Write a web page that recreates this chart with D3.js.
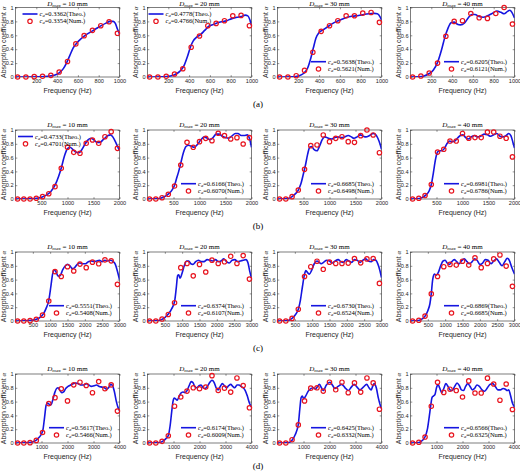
<!DOCTYPE html>
<html><head><meta charset="utf-8">
<script src="https://cdn.jsdelivr.net/npm/d3@7"></script>
<style>body{margin:0;background:#fff}svg{display:block}</style>
</head><body><svg id="c" width="520" height="475"></svg>
<script>
// ---------------- DATA ----------------
const rowLabels = ["(a)","(b)","(c)","(d)"];
const dmaxLabels = ["10","20","30","40"];
const fMax = [1000,2000,3000,4000];
const xTicksA = [200,400,600,800,1000];
const xTicksB = [500,1000,1500,2000];
const xTicksC = [500,1000,1500,2000,2500,3000];
const xTicksD = [1000,2000,3000,4000];
const yTicks = [0,0.2,0.4,0.6,0.8,1];

const freqA = [20,100,180,260,340,420,500,580,660,740,820,900,980];
const freqB = [40,160,280,400,520,640,760,880,1000,1120,1240,1360,1480,1600,1720,1840,1960];
const freqC = [60,240,420,600,780,960,1140,1320,1500,1680,1860,2040,2220,2400,2580,2760,2940];
const freqD = [80,320,560,800,1040,1280,1520,1760,2000,2240,2480,2720,2960,3200,3440,3680,3920];

const caTheoA = ["0.3362","0.4778","0.5638","0.6205"];
const caNumA  = ["0.3354","0.4766","0.5621","0.6121"];
const caTheoB = ["0.4733","0.6166","0.6685","0.6981"];
const caNumB  = ["0.4701","0.6070","0.6498","0.6786"];
const caTheoC = ["0.5551","0.6374","0.6730","0.6869"];
const caNumC  = ["0.5408","0.6107","0.6524","0.6685"];
const caTheoD = ["0.5617","0.6174","0.6425","0.6566"];
const caNumD  = ["0.5466","0.6009","0.6332","0.6325"];

// numerical (circles)
const numA1 = [0,0,0.005,0.01,0.024,0.071,0.224,0.476,0.595,0.671,0.738,0.795,0.629];
const numA2 = [0,0,0.01,0.043,0.119,0.429,0.59,0.738,0.771,0.81,0.881,0.886,0.738];
const numA3 = [0,0,0.019,0.095,0.357,0.657,0.738,0.81,0.881,0.881,0.919,0.929,0.786];
const numA4 = [0,0.014,0.057,0.2,0.586,0.8,0.81,0.914,0.852,0.843,0.914,1.0,0.762];
const numB1 = [0,0,0,0.01,0.034,0.077,0.179,0.444,0.749,0.676,0.662,0.807,0.855,0.807,0.903,0.976,0.734];
const numB2 = [0,0,0.019,0.068,0.188,0.493,0.821,0.749,0.831,0.879,0.845,0.952,0.918,0.87,0.889,0.797,0.889];
const numB3 = [0,0,0.034,0.13,0.43,0.773,0.783,0.928,0.831,0.879,0.903,0.831,0.821,0.918,1.0,0.928,0.671];
const numB4 = [0,0.01,0.05,0.21,0.68,0.72,0.84,0.84,0.95,0.88,0.89,0.89,0.97,0.97,0.91,0.88,0.61];
const numC1 = [0,0,0.005,0.024,0.085,0.289,0.716,0.645,0.787,0.725,0.825,0.773,0.853,0.829,0.886,0.872,0.531];
const numC2 = [0,0,0.028,0.095,0.265,0.773,0.834,0.654,0.82,0.71,0.882,0.834,0.858,0.938,0.834,0.948,0.607];
const numC3 = [0,0,0.038,0.171,0.645,0.787,0.867,0.749,0.853,0.834,0.834,0.839,0.905,0.843,0.9,0.905,0.545];
const numC4 = [0,0.01,0.071,0.393,0.645,0.787,0.82,0.81,0.867,0.81,0.915,0.773,0.834,0.9,0.957,0.796,0.502];
const numD1 = [0,0,0.005,0.038,0.152,0.571,0.657,0.786,0.61,0.843,0.881,0.833,0.729,0.89,0.786,0.843,0.462];
const numD2 = [0,0,0.024,0.105,0.533,0.667,0.752,0.8,0.786,0.81,0.976,0.762,0.795,0.738,0.943,0.833,0.51];
const numD3 = [0,0,0.048,0.262,0.61,0.795,0.8,0.752,0.881,0.771,0.881,0.729,0.871,0.738,0.943,0.871,0.49];
const numD4 = [0,0.01,0.086,0.533,0.88,0.733,0.78,0.76,0.667,0.9,0.724,0.724,0.94,0.855,0.62,0.855,0.486];

// theoretical curves [frequency, alpha]
const theoA1 = [[0,0],[250,0.003],[330,0.015],[380,0.03],[420,0.06],[460,0.12],[490,0.2],[520,0.3],[555,0.42],[590,0.49],[630,0.55],[670,0.6],[720,0.645],[770,0.69],[820,0.735],[870,0.775],[910,0.8],[940,0.8],[960,0.77],[980,0.69],[1000,0.62]];
const theoA2 = [[0,0],[150,0.003],[220,0.015],[270,0.04],[310,0.08],[350,0.16],[385,0.3],[415,0.44],[440,0.52],[470,0.57],[510,0.61],[550,0.67],[590,0.73],[640,0.76],[700,0.79],[760,0.81],[810,0.84],[860,0.86],[900,0.87],[940,0.89],[965,0.88],[985,0.82],[1000,0.74]];
const theoA3 = [[0,0],[150,0.003],[200,0.015],[250,0.05],[290,0.13],[320,0.27],[345,0.42],[370,0.56],[400,0.64],[440,0.68],[480,0.72],[520,0.76],[570,0.8],[620,0.83],[670,0.86],[720,0.875],[780,0.885],[830,0.9],[880,0.91],[930,0.915],[960,0.91],[985,0.87],[1000,0.82]];
const theoA4 = [[0,0],[80,0.003],[130,0.015],[180,0.05],[220,0.1],[260,0.21],[300,0.4],[330,0.57],[360,0.7],[390,0.78],[420,0.79],[450,0.76],[480,0.75],[520,0.78],[560,0.86],[590,0.9],[620,0.9],[660,0.87],[700,0.86],[740,0.88],[780,0.91],[830,0.95],[870,0.93],[900,0.91],[930,0.94],[955,0.96],[975,0.93],[1000,0.85]];
const theoB1 = [[0,0],[300,0.002],[400,0.01],[500,0.025],[600,0.06],[680,0.11],[760,0.2],[830,0.33],[880,0.45],[940,0.62],[1000,0.73],[1050,0.75],[1100,0.72],[1160,0.68],[1220,0.67],[1280,0.72],[1340,0.8],[1400,0.86],[1450,0.88],[1500,0.86],[1570,0.82],[1620,0.82],[1700,0.87],[1780,0.92],[1830,0.93],[1880,0.89],[1940,0.8],[2000,0.7]];
const theoB2 = [[0,0],[200,0.003],[280,0.02],[360,0.05],[430,0.09],[480,0.14],[520,0.2],[560,0.3],[600,0.4],[640,0.52],[690,0.67],[740,0.76],[790,0.78],[850,0.76],[900,0.75],[960,0.79],[1020,0.85],[1090,0.9],[1150,0.88],[1200,0.86],[1260,0.89],[1320,0.94],[1380,0.94],[1440,0.91],[1500,0.89],[1560,0.88],[1620,0.91],[1690,0.95],[1740,0.95],[1800,0.92],[1860,0.92],[1920,0.93],[1960,0.88],[2000,0.75]];
const theoB3 = [[0,0],[150,0.003],[250,0.02],[320,0.06],[400,0.13],[450,0.22],[500,0.37],[540,0.5],[580,0.65],[620,0.75],[660,0.76],[700,0.72],[760,0.7],[810,0.77],[860,0.86],[910,0.9],[980,0.88],[1040,0.87],[1100,0.89],[1160,0.9],[1220,0.89],[1290,0.9],[1360,0.92],[1420,0.9],[1470,0.88],[1530,0.9],[1590,0.93],[1650,0.91],[1700,0.9],[1770,0.92],[1840,0.95],[1880,0.94],[1930,0.88],[1970,0.8],[2000,0.72]];
const theoB4 = [[0,0],[120,0.003],[220,0.02],[300,0.06],[360,0.12],[400,0.21],[440,0.38],[480,0.57],[520,0.68],[560,0.7],[600,0.7],[650,0.73],[700,0.8],[750,0.84],[800,0.83],[850,0.84],[900,0.88],[960,0.92],[1010,0.93],[1060,0.89],[1110,0.87],[1170,0.9],[1230,0.92],[1290,0.9],[1350,0.91],[1420,0.94],[1480,0.93],[1540,0.91],[1600,0.93],[1660,0.95],[1720,0.91],[1780,0.9],[1840,0.92],[1890,0.95],[1930,0.92],[1970,0.82],[2000,0.74]];
const theoC1 = [[0,0],[300,0.003],[450,0.01],[600,0.025],[700,0.05],[800,0.1],[880,0.18],[960,0.3],[1020,0.5],[1070,0.68],[1120,0.74],[1170,0.71],[1230,0.65],[1290,0.66],[1360,0.74],[1440,0.8],[1500,0.82],[1570,0.8],[1640,0.76],[1700,0.77],[1780,0.82],[1860,0.84],[1940,0.83],[2020,0.83],[2100,0.86],[2180,0.87],[2260,0.86],[2340,0.87],[2420,0.88],[2500,0.86],[2580,0.88],[2660,0.87],[2740,0.88],[2820,0.86],[2880,0.82],[2940,0.72],[3000,0.6]];
const theoC2 = [[0,0],[250,0.003],[400,0.02],[500,0.05],[600,0.1],[700,0.18],[780,0.28],[830,0.48],[870,0.66],[900,0.67],[940,0.62],[990,0.68],[1060,0.8],[1130,0.87],[1190,0.87],[1250,0.83],[1310,0.82],[1390,0.86],[1470,0.88],[1550,0.86],[1630,0.86],[1720,0.89],[1800,0.88],[1880,0.87],[1960,0.89],[2040,0.86],[2120,0.87],[2200,0.9],[2280,0.86],[2360,0.84],[2440,0.88],[2520,0.89],[2600,0.86],[2680,0.87],[2760,0.88],[2840,0.89],[2900,0.84],[2950,0.72],[3000,0.62]];
const theoC3 = [[0,0],[250,0.003],[400,0.03],[500,0.08],[600,0.17],[660,0.3],[720,0.5],[780,0.68],[820,0.73],[870,0.7],[920,0.68],[980,0.73],[1060,0.83],[1140,0.87],[1200,0.85],[1260,0.83],[1330,0.85],[1420,0.88],[1500,0.87],[1580,0.84],[1660,0.87],[1750,0.89],[1830,0.86],[1900,0.85],[1980,0.89],[2060,0.87],[2140,0.85],[2220,0.89],[2300,0.88],[2380,0.85],[2460,0.88],[2540,0.9],[2620,0.87],[2700,0.86],[2780,0.89],[2840,0.88],[2900,0.82],[2950,0.74],[3000,0.63]];
const theoC4 = [[0,0],[150,0.003],[300,0.02],[420,0.07],[500,0.15],[560,0.25],[600,0.4],[640,0.6],[690,0.68],[740,0.66],[800,0.7],[870,0.8],[940,0.87],[1000,0.88],[1060,0.84],[1120,0.82],[1190,0.86],[1260,0.89],[1330,0.86],[1400,0.83],[1470,0.87],[1550,0.9],[1630,0.86],[1700,0.83],[1780,0.86],[1850,0.9],[1920,0.88],[2000,0.82],[2080,0.84],[2160,0.89],[2240,0.88],[2320,0.83],[2400,0.87],[2480,0.9],[2560,0.85],[2640,0.8],[2720,0.86],[2790,0.91],[2850,0.88],[2920,0.78],[3000,0.68]];
const theoD1 = [[0,0],[400,0.003],[600,0.01],[800,0.04],[900,0.08],[1000,0.13],[1060,0.2],[1120,0.38],[1180,0.55],[1230,0.58],[1300,0.56],[1360,0.55],[1430,0.62],[1510,0.73],[1580,0.79],[1640,0.8],[1700,0.77],[1780,0.73],[1850,0.74],[1930,0.79],[2020,0.82],[2120,0.84],[2220,0.86],[2320,0.87],[2420,0.86],[2520,0.84],[2620,0.84],[2720,0.86],[2820,0.84],[2920,0.82],[3020,0.83],[3120,0.84],[3220,0.82],[3320,0.81],[3420,0.8],[3500,0.78],[3580,0.8],[3660,0.85],[3720,0.84],[3800,0.75],[3880,0.6],[3940,0.52],[4000,0.47]];
const theoD2 = [[0,0],[400,0.003],[560,0.02],[700,0.06],[800,0.11],[870,0.25],[930,0.45],[980,0.6],[1030,0.65],[1080,0.64],[1140,0.62],[1200,0.66],[1280,0.72],[1360,0.74],[1440,0.73],[1520,0.76],[1600,0.83],[1680,0.89],[1740,0.88],[1820,0.82],[1900,0.8],[1980,0.83],[2060,0.84],[2140,0.8],[2220,0.79],[2300,0.82],[2400,0.88],[2480,0.91],[2560,0.88],[2640,0.8],[2720,0.77],[2800,0.82],[2880,0.86],[2960,0.83],[3040,0.8],[3120,0.83],[3200,0.85],[3280,0.82],[3360,0.8],[3440,0.84],[3520,0.84],[3600,0.82],[3680,0.8],[3760,0.76],[3840,0.68],[3920,0.58],[4000,0.52]];
const theoD3 = [[0,0],[400,0.003],[560,0.04],[680,0.12],[800,0.27],[860,0.5],[910,0.66],[955,0.68],[1010,0.64],[1080,0.68],[1200,0.76],[1380,0.8],[1460,0.78],[1540,0.82],[1610,0.85],[1690,0.8],[1760,0.76],[1880,0.84],[2020,0.88],[2110,0.84],[2210,0.79],[2330,0.82],[2470,0.85],[2600,0.8],[2720,0.76],[2840,0.81],[2950,0.85],[3060,0.81],[3170,0.77],[3300,0.81],[3430,0.85],[3520,0.8],[3600,0.77],[3660,0.82],[3720,0.86],[3800,0.8],[3880,0.65],[3950,0.55],[4000,0.5]];
const theoD4 = [[0,0],[250,0.003],[400,0.02],[560,0.09],[650,0.2],[720,0.38],[780,0.55],[830,0.66],[880,0.68],[940,0.7],[1000,0.8],[1060,0.85],[1120,0.8],[1200,0.73],[1280,0.79],[1360,0.86],[1440,0.82],[1520,0.77],[1600,0.76],[1700,0.82],[1790,0.87],[1880,0.83],[1960,0.77],[2040,0.76],[2120,0.82],[2200,0.86],[2290,0.82],[2380,0.77],[2460,0.79],[2560,0.84],[2650,0.82],[2750,0.77],[2850,0.75],[2960,0.8],[3060,0.85],[3160,0.86],[3260,0.82],[3360,0.77],[3460,0.77],[3560,0.79],[3650,0.78],[3720,0.76],[3780,0.77],[3840,0.7],[3920,0.58],[4000,0.52]];

// ---------------- LAYOUT ----------------
const colLeft = [15.5,147.5,277.5,410.5];
const panelW = 104;
const rowTop = [7.5,130,252,374];
const rowBottom = [77,199,321,443];
const rowLabelY = [104,226,348,466];
const legendNW = [[true,true,false,false],[true,false,false,false],[false,false,false,false],[false,false,false,false]];
const legendNWdx = [[7,1,0,0],[2.5,0,0,0],[0,0,0,0],[0,0,0,0]];

const freqs = [freqA,freqB,freqC,freqD];
const xTicksAll = [xTicksA,xTicksB,xTicksC,xTicksD];
const caTheo = [caTheoA,caTheoB,caTheoC,caTheoD];
const caNum = [caNumA,caNumB,caNumC,caNumD];
const nums = [[numA1,numA2,numA3,numA4],[numB1,numB2,numB3,numB4],[numC1,numC2,numC3,numC4],[numD1,numD2,numD3,numD4]];
const theos = [[theoA1,theoA2,theoA3,theoA4],[theoB1,theoB2,theoB3,theoB4],[theoC1,theoC2,theoC3,theoC4],[theoD1,theoD2,theoD3,theoD4]];

const AX = "#262626";
const BLUE = "#1515e0";
const RED = "#e8141e";
const SANS = "'Liberation Sans', Arial, sans-serif";
const SERIF = "'Liberation Serif', 'Times New Roman', serif";

const svg = d3.select("#c");
svg.append("rect").attr("width",520).attr("height",475).attr("fill","#fff");
const defs = svg.append("defs");

for (let r = 0; r < 4; r++) {
  for (let c = 0; c < 4; c++) {
    const L = colLeft[c], R = L + panelW, T = rowTop[r], B = rowBottom[r];
    const x = d3.scaleLinear().domain([0, fMax[r]]).range([L, R]);
    const y = d3.scaleLinear().domain([0, 1]).range([B, T]);
    const id = "clip" + r + c;
    defs.append("clipPath").attr("id", id).append("rect")
      .attr("x", L).attr("y", T).attr("width", R - L).attr("height", B - T);
    const g = svg.append("g");

    const fmt = d => String(d);
    const styleAxis = sel => {
      sel.select(".domain").remove();
      sel.selectAll(".tick line").attr("stroke", AX).attr("stroke-width", 0.5);
      sel.selectAll(".tick text").attr("fill", AX).style("font-family", SANS).style("font-size", "5.6px");
    };
    g.append("g").attr("transform", `translate(${L},0)`)
      .call(d3.axisLeft(y).tickValues(yTicks).tickSize(-1.8).tickPadding(2).tickFormat(fmt)).call(styleAxis);
    g.append("g").attr("transform", `translate(${R},0)`)
      .call(d3.axisRight(y).tickValues(yTicks).tickSize(-1.8).tickFormat("")).call(styleAxis);
    g.append("g").attr("transform", `translate(0,${B})`)
      .call(d3.axisBottom(x).tickValues(xTicksAll[r]).tickSize(-1.8).tickPadding(2.5).tickFormat(fmt)).call(styleAxis);
    g.append("g").attr("transform", `translate(0,${T})`)
      .call(d3.axisTop(x).tickValues(xTicksAll[r]).tickSize(-1.8).tickFormat("")).call(styleAxis);
    g.selectAll("text").attr("font-family", null);

    g.append("rect").attr("x", L).attr("y", T).attr("width", R - L).attr("height", B - T)
      .attr("fill", "none").attr("stroke", AX).attr("stroke-width", 0.6);

    const line = d3.line().x(d => x(d[0])).y(d => y(d[1])).curve(d3.curveMonotoneX);
    g.append("path").datum(theos[r][c]).attr("clip-path", `url(#${id})`)
      .attr("d", line).attr("fill", "none").attr("stroke", BLUE).attr("stroke-width", 1.6);

    g.selectAll("circle.num").data(nums[r][c]).enter().append("circle")
      .attr("class", "num")
      .attr("cx", (d, i) => x(freqs[r][i])).attr("cy", d => y(d)).attr("r", 2.2)
      .attr("fill", "none").attr("stroke", RED).attr("stroke-width", 1.2);

    // title
    const ty = Math.max(T - 3.5, 6.2);
    const t = g.append("text").attr("x", (L + R) / 2).attr("y", ty).attr("text-anchor", "middle")
      .style("font-family", SERIF).style("font-size", "7px").attr("fill", "#000");
    t.append("tspan").style("font-style", "italic").text("D");
    t.append("tspan").style("font-style", "italic").style("font-size", "5px").attr("dy", 1.2).text("max");
    t.append("tspan").attr("dy", -1.2).text(" = " + dmaxLabels[c] + " mm");

    g.append("text").attr("x", (L + R) / 2).attr("y", B + 15.5).attr("text-anchor", "middle")
      .style("font-family", SANS).style("font-size", "7px").attr("fill", AX).text("Frequency (Hz)");
    const yl = g.append("text").attr("transform", `translate(${L - 9.5},${(T + B) / 2}) rotate(-90)`)
      .attr("text-anchor", "middle").style("font-family", SANS).style("font-size", "6.9px").attr("fill", AX);
    yl.append("tspan").text("Absorption coefficient ");
    yl.append("tspan").style("font-family", SERIF).style("font-style", "italic").text("α");

    // legend
    const nw = legendNW[r][c];
    let lx0, ly0;
    const textW = 46.5, lineLen = 15, gap = 2;
    if (nw) { lx0 = L + legendNWdx[r][c]; ly0 = T + 6.5; }
    else { lx0 = R - 7 - textW - gap - lineLen; ly0 = B - 15.3; }
    const lg = g.append("g");
    const entries = [
      {type: "line", val: caTheo[r][c], tag: "(Theo.)"},
      {type: "circ", val: caNum[r][c], tag: "(Num.)"}
    ];
    entries.forEach((e, i) => {
      const yy = ly0 + i * 7.3;
      if (e.type === "line") {
        lg.append("line").attr("x1", lx0).attr("x2", lx0 + lineLen).attr("y1", yy).attr("y2", yy)
          .attr("stroke", BLUE).attr("stroke-width", 1.6);
      } else {
        lg.append("circle").attr("cx", lx0 + lineLen / 2).attr("cy", yy).attr("r", 2.2)
          .attr("fill", "none").attr("stroke", RED).attr("stroke-width", 1.2);
      }
      const tx = lg.append("text").attr("x", lx0 + lineLen + gap).attr("y", yy + 2)
        .style("font-family", SERIF).style("font-size", "6.5px").attr("fill", "#000");
      tx.append("tspan").style("font-style", "italic").text("c");
      tx.append("tspan").style("font-style", "italic").style("font-size", "4.6px").attr("dy", 1.1).text("a");
      tx.append("tspan").attr("dy", -1.1).text("=" + e.val + e.tag);
    });
  }
  svg.append("text").attr("x", 258).attr("y", rowLabelY[r] + 3).attr("text-anchor", "middle")
    .style("font-family", SERIF).style("font-size", "9px").attr("fill", "#000").text(rowLabels[r]);
}
</script></body></html>
